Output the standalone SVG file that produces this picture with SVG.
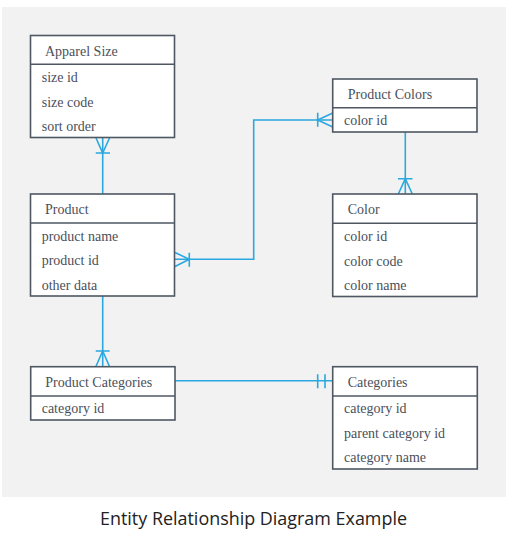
<svg xmlns="http://www.w3.org/2000/svg" width="526" height="550" viewBox="0 0 526 550">
<style>
.box{fill:#ffffff;stroke:#4f5763;stroke-width:1.6}
.sep{stroke:#4f5763;stroke-width:1.6}
.t{font-family:"Liberation Serif","DejaVu Serif",serif;font-size:14px;fill:#4a505b}
.c{fill:none;stroke:#2aa8df;stroke-width:1.6}
.title{font-family:"Open Sans","Noto Sans",sans-serif;font-size:18px;fill:#222222}
</style>
<rect x="0" y="0" width="526" height="550" fill="#ffffff"/>
<rect x="2" y="7" width="504" height="490" fill="#f2f2f2"/>
<g id="connectors">
<path class="c" d="M102.7,138 V194"/>
<path class="c" d="M96,138 L102.7,153 L109.5,138 M95.7,153 H110"/>
<path class="c" d="M175,259.3 H253.7 V120 H332.7"/>
<path class="c" d="M175,252.5 L189.3,259.3 L175,266.5 M189.3,252.7 V266.7"/>
<path class="c" d="M332.7,113 L317.7,120 L332.7,127 M317.7,112.7 V126.7"/>
<path class="c" d="M405.3,132 V194"/>
<path class="c" d="M398.3,194 L405.3,178.7 L412.3,194 M398,178.7 H412.5"/>
<path class="c" d="M102.7,296 V367"/>
<path class="c" d="M95.7,367 L102.7,351 L109.7,367 M95.7,351 H109.7"/>
<path class="c" d="M175,380.7 H332.7"/>
<path class="c" d="M317.7,374.3 V388.3 M325,374.3 V388.3"/>
</g>
<g id="apparel-size">
<rect class="box" x="30.5" y="35.5" width="144" height="102"/>
<line class="sep" x1="30.5" y1="64.3" x2="174.5" y2="64.3"/>
<text class="t" x="45" y="56">Apparel Size</text>
<text class="t" x="41.7" y="82">size id</text>
<text class="t" x="41.7" y="107">size code</text>
<text class="t" x="41.7" y="131">sort order</text>
</g>
<g id="product">
<rect class="box" x="30.5" y="194" width="144" height="102"/>
<line class="sep" x1="30.5" y1="223" x2="174.5" y2="223"/>
<text class="t" x="45" y="214">Product</text>
<text class="t" x="41.7" y="241">product name</text>
<text class="t" x="41.7" y="265.3">product id</text>
<text class="t" x="41.7" y="290">other data</text>
</g>
<g id="product-colors">
<rect class="box" x="332.7" y="79" width="144.3" height="53"/>
<line class="sep" x1="332.7" y1="107.7" x2="477" y2="107.7"/>
<text class="t" x="347.7" y="99">Product Colors</text>
<text class="t" x="344" y="125">color id</text>
</g>
<g id="color">
<rect class="box" x="332.7" y="194" width="144.3" height="102.5"/>
<line class="sep" x1="332.7" y1="223.3" x2="477" y2="223.3"/>
<text class="t" x="347.7" y="214">Color</text>
<text class="t" x="344" y="240.7">color id</text>
<text class="t" x="344" y="265.7">color code</text>
<text class="t" x="344" y="290">color name</text>
</g>
<g id="product-categories">
<rect class="box" x="30.7" y="366.7" width="144.3" height="53.3"/>
<line class="sep" x1="30.7" y1="396" x2="175" y2="396"/>
<text class="t" x="45.3" y="386.7">Product Categories</text>
<text class="t" x="41.7" y="413">category id</text>
</g>
<g id="categories">
<rect class="box" x="332.7" y="366.7" width="144.6" height="102.3"/>
<line class="sep" x1="332.7" y1="396" x2="477.3" y2="396"/>
<text class="t" x="347.7" y="386.7">Categories</text>
<text class="t" x="344" y="413">category id</text>
<text class="t" x="344" y="438">parent category id</text>
<text class="t" x="344" y="462">category name</text>
</g>
<text class="title" x="100" y="525" textLength="307" lengthAdjust="spacingAndGlyphs">Entity Relationship Diagram Example</text>
</svg>
